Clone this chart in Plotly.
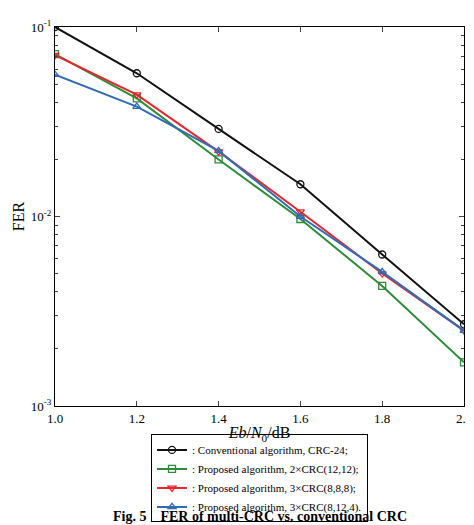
import plotly.graph_objects as go

x = [1.0, 1.2, 1.4, 1.6, 1.8, 2.0]
conv = [0.100, 0.057, 0.029, 0.0148, 0.0063, 0.0027]
p2 = [0.072, 0.042, 0.0200, 0.0097, 0.0043, 0.0017]
p3a = [0.071, 0.044, 0.0220, 0.0106, 0.0050, 0.0025]
p3b = [0.056, 0.038, 0.0222, 0.0100, 0.0051, 0.0025]

names = [": Conventional algorithm, CRC-24;",
         ": Proposed algorithm, 2\u00d7CRC(12,12);",
         ": Proposed algorithm, 3\u00d7CRC(8,8,8);",
         ": Proposed algorithm, 3\u00d7CRC(8,12,4)."]
colors = ["#111111", "#2e8b3a", "#e8262b", "#2f6cb5"]
symbols = ["circle-open", "square-open", "triangle-down-open", "triangle-up-open"]

fig = go.Figure()
for ys, n, c, s in zip([conv, p2, p3a, p3b], names, colors, symbols):
    fig.add_trace(go.Scatter(x=x, y=ys, name=n, mode="lines+markers",
                             line=dict(color=c, width=2),
                             marker=dict(symbol=s, size=7, color=c, line=dict(width=1.3, color=c))))

fig.update_layout(
    width=474, height=525,
    margin=dict(l=42, r=18, t=10, b=127),
    paper_bgcolor="white", plot_bgcolor="white",
    font=dict(family="Liberation Serif", size=13, color="black"),
    showlegend=True,
    legend=dict(x=0.5, xanchor="center", y=-0.075, yanchor="top",
                bordercolor="black", borderwidth=1, font=dict(size=11),
                tracegroupgap=0, itemwidth=30),
    xaxis=dict(range=[1.0, 2.0], dtick=0.2, tickformat=".1f", ticks="inside",
               mirror="ticks", showline=True, linecolor="black", showgrid=False,
               zeroline=False,
               title=dict(text="<i>Eb</i>/<i>N</i><sub>0</sub>/dB", standoff=2)),
    yaxis=dict(type="log", range=[-3, -1], ticks="inside",
               mirror="ticks", showline=True, linecolor="black", showgrid=False,
               tickvals=[0.001, 0.01, 0.1],
               ticktext=["10<sup>-3</sup>", "10<sup>-2</sup>", "10<sup>-1</sup>"],
               minor=dict(ticks="inside", ticklen=3, tickvals=[k * 10 ** e for e in (-3, -2) for k in range(2, 10)]),
               title=dict(text="FER", standoff=2)),
    annotations=[dict(text="<b>Fig. 5    FER of multi-CRC vs. conventional CRC</b>",
                      x=0.5, xref="paper", y=0, yref="paper", yshift=-101,
                      showarrow=False, font=dict(size=14), yanchor="top")],
)
fig.write_html("out.html")
